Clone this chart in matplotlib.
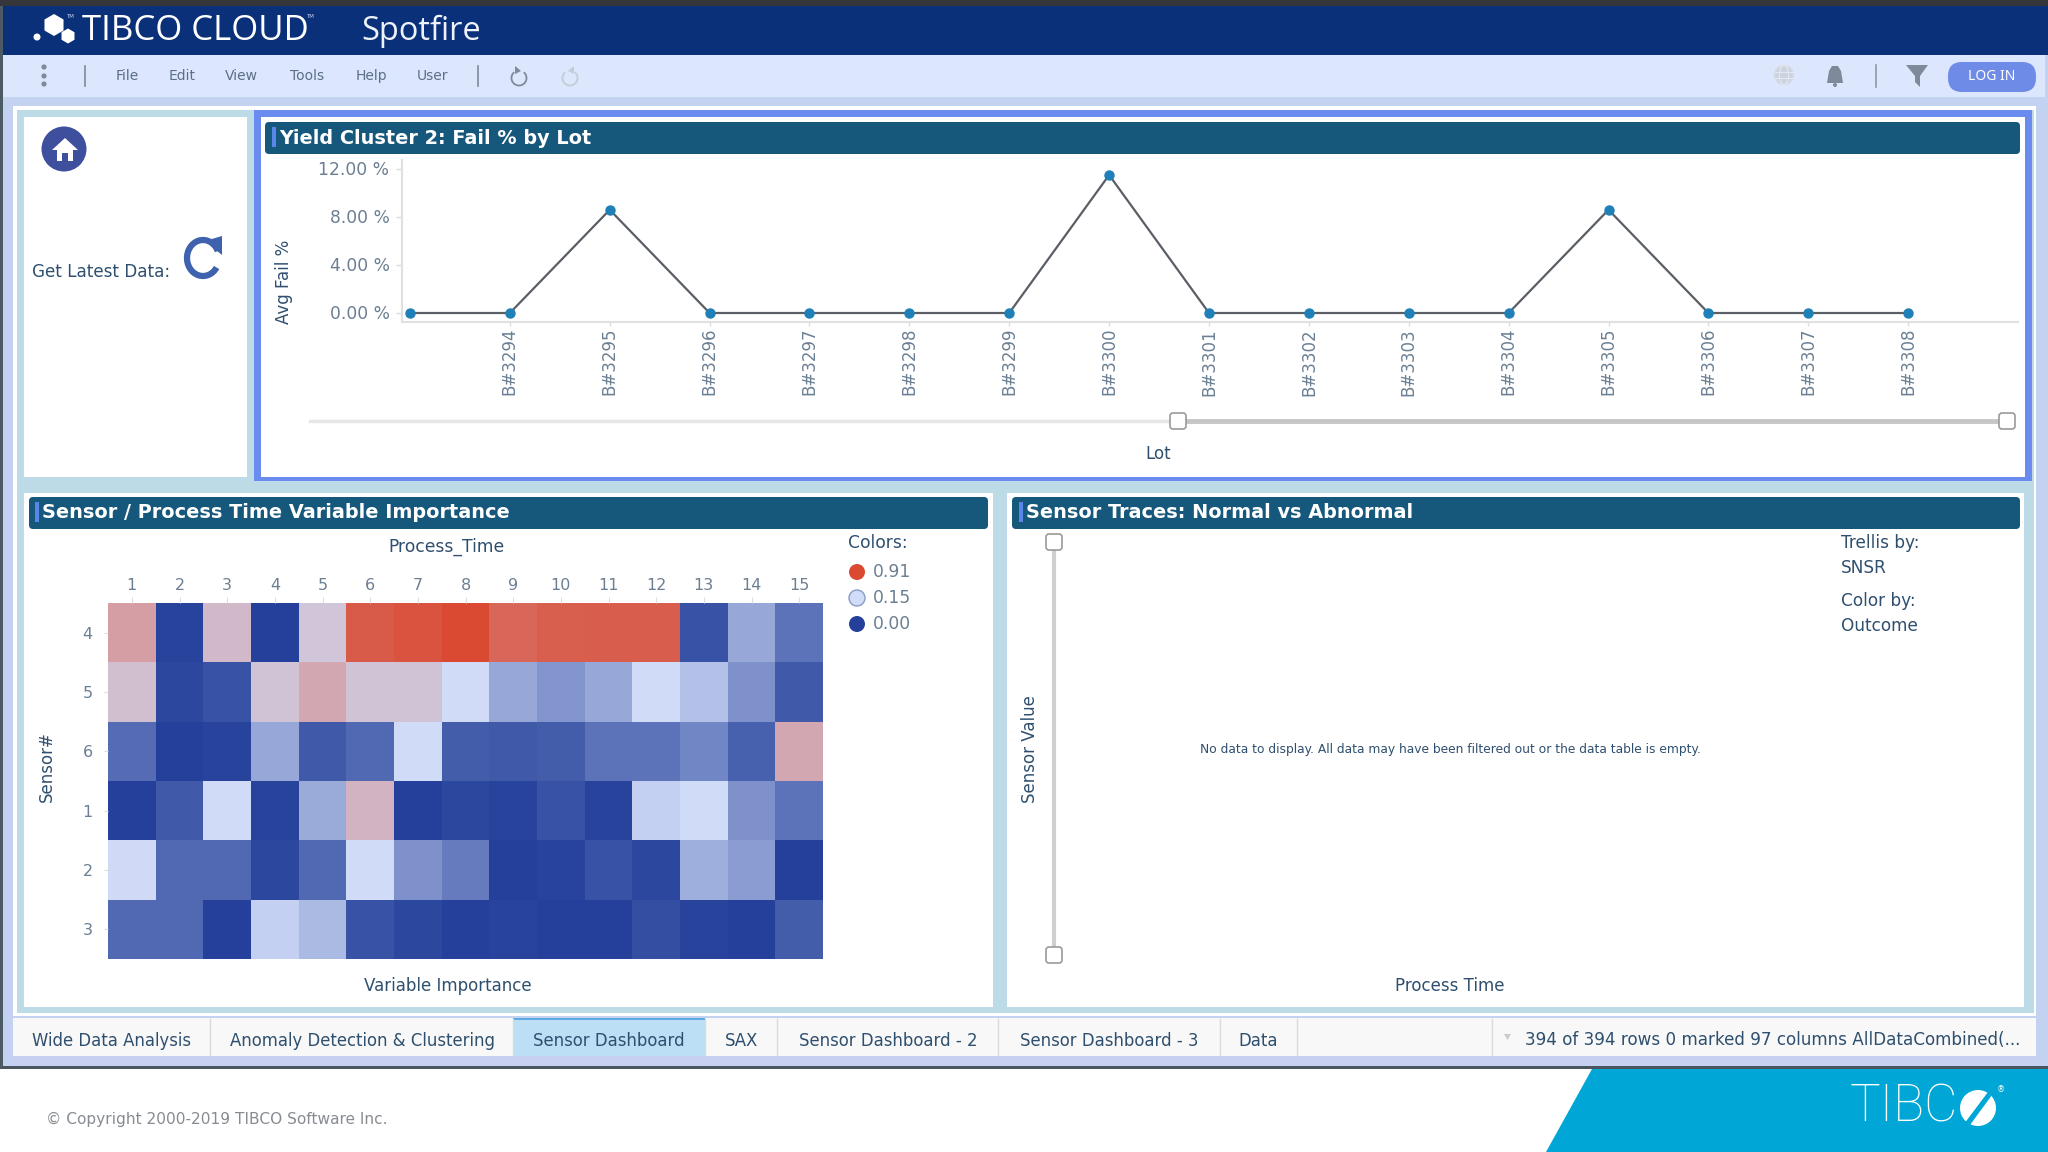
import numpy as np
import matplotlib
matplotlib.use("Agg")
import matplotlib.pyplot as plt
from matplotlib.colors import LinearSegmentedColormap, Normalize
from matplotlib.patches import Rectangle, FancyBboxPatch, Circle, Polygon, Arc, RegularPolygon, Ellipse
from matplotlib.transforms import ScaledTranslation

# fail % by lot
lots = ["", "B#3294", "B#3295", "B#3296", "B#3297", "B#3298", "B#3299", "B#3300",
        "B#3301", "B#3302", "B#3303", "B#3304", "B#3305", "B#3306", "B#3307", "B#3308"]
avg_fail = [0, 0, 8.6, 0, 0, 0, 0, 11.5, 0, 0, 0, 0, 8.6, 0, 0, 0]
fail_ticks = [0, 4, 8, 12]

# heatmap
process_time = list(range(1, 16))
sensors = ["4", "5", "6", "1", "2", "3"]
sensor_4 = [.47, .005, .33, .00, .27, .82, .86, .91, .76, .80, .81, .81, .02, .10, .05]
sensor_5 = [.30, .01, .02, .28, .42, .28, .28, .15, .10, .085, .10, .15, .125, .08, .025]
sensor_6 = [.045, .002, .005, .10, .025, .04, .15, .03, .025, .03, .05, .05, .07, .035, .42]
sensor_1 = [.00, .025, .15, .005, .105, .36, .00, .01, .005, .02, .005, .14, .15, .08, .05]
sensor_2 = [.16, .04, .04, .01, .04, .15, .08, .06, .002, .004, .02, .01, .11, .09, .002]
sensor_3 = [.04, .04, .00, .14, .12, .02, .008, .002, .006, .002, .002, .015, .004, .003, .03]
legend_vals = [0.91, 0.15, 0.00]

tabs = ["Wide Data Analysis", "Anomaly Detection & Clustering", "Sensor Dashboard", "SAX",
        "Sensor Dashboard - 2", "Sensor Dashboard - 3", "Data"]
tab_x = [111, 362, 609, 741, 888, 1109, 1258]
tab_seps = [210, 513, 705, 777, 998, 1220, 1297, 1492]
menu = ["File", "Edit", "View", "Tools", "Help", "User"]
menu_x = [127, 182, 241, 307, 371, 432]

TEXT = "#2f4f6f"
TICK = "#6b7f93"
TEAL = "#16587c"
W, H = 2048, 1152

fig = plt.figure(figsize=(W / 100, H / 100), dpi=100, facecolor="white")
plt.rcParams["font.family"] = ["DejaVu Sans"]


def px_axes(left, top, right, bottom, **kw):
    return fig.add_axes([left / W, 1 - bottom / H, (right - left) / W, (bottom - top) / H], **kw)


# page furniture, drawn in pixel coordinates
bg = fig.add_axes([0, 0, 1, 1], zorder=0)
bg.set_xlim(0, W)
bg.set_ylim(H, 0)
bg.axis("off")


def box(x0, y0, x1, y1, color, z=1):
    bg.add_patch(Rectangle((x0, y0), x1 - x0, y1 - y0, fc=color, ec="none", zorder=z))


def rbox(x0, y0, x1, y1, color, rad=4, z=2, ec="none", lw=0):
    bg.add_patch(FancyBboxPatch((x0 + rad, y0 + rad), x1 - x0 - 2 * rad, y1 - y0 - 2 * rad,
                                boxstyle="round,pad=%d" % rad, fc=color, ec=ec, lw=lw, zorder=z))


def txt(x, y, s, size=11, color=TEXT, ha="left", va="center", **kw):
    bg.text(x, y, s, fontsize=size, color=color, ha=ha, va=va, zorder=6, **kw)


# window + title bars
box(0, 0, W, 1068, "#c3d2f0")
box(0, 1066, W, 1069, "#4a5560")
box(0, 0, 3, 1068, "#4c5a66", z=3)
box(0, 0, W, 6, "#35363a", z=3)
box(0, 6, W, 55, "#0a3079", z=2)
box(3, 55, W - 3, 97, "#dce6fc", z=2)
box(13, 106, 2036, 1016, "white", z=2)
box(17, 110, 2034, 1013, "#bcdbe6", z=2)
box(24, 117, 247, 477, "white", z=3)
box(254, 110, 2032, 481, "#6a8cf0", z=3)
box(261, 117, 2025, 477, "white", z=4)
box(24, 493, 993, 1007, "white", z=3)
box(1007, 493, 2024, 1007, "white", z=3)

# logo
bg.add_patch(Circle((37, 37), 3.5, fc="white", zorder=5))
bg.add_patch(RegularPolygon((54, 25), 6, radius=11, fc="white", zorder=5))
bg.add_patch(RegularPolygon((68, 36), 6, radius=7.5, fc="white", zorder=5))
txt(82, 31, "TIBCO CLOUD", size=25, color="white", family="Open Sans")
txt(66, 17, "TM", size=4, color="#c8d4ee")
txt(306, 16, "TM", size=4, color="#c8d4ee")
txt(361, 31, "Spotfire", size=23.5, color="#eef2fb", family="Open Sans")

# toolbar
for yy in (67, 76, 84):
    bg.add_patch(Circle((44, yy), 2.6, fc="#7d8a9b", zorder=5))
bg.plot([85, 85], [66, 86], color="#7d8a9b", lw=1.2, zorder=5)
bg.plot([478, 478], [66, 86], color="#7d8a9b", lw=1.2, zorder=5)
for name, xx in zip(menu, menu_x):
    txt(xx, 76, name, size=10, color="#5c6f84", ha="center")
bg.add_patch(Arc((519, 78), 15, 15, theta1=-50, theta2=230, ec="#7d8a9b", lw=1.3, zorder=5))
bg.add_patch(Arc((570, 78), 15, 15, theta1=-50, theta2=230, ec="#c4ccd8", lw=1.3, zorder=5))
bg.add_patch(Polygon([[515, 66], [515, 74], [521, 71]], fc="#7d8a9b", zorder=5))
bg.add_patch(Polygon([[574, 66], [574, 74], [568, 71]], fc="#c4ccd8", zorder=5))
bg.add_patch(Circle((1784, 75), 9.5, fc="#cbd3e0", ec="#d6dce6", zorder=5))
bg.add_patch(Ellipse((1784, 75), 9, 19, fc="none", ec="#e4e9f1", lw=0.8, zorder=6))
bg.plot([1775, 1793], [72, 72], color="#e4e9f1", lw=0.8, zorder=6)
bg.plot([1775, 1793], [78, 78], color="#e4e9f1", lw=0.8, zorder=6)
bg.add_patch(Polygon([[1827, 83], [1829, 71], [1832, 66], [1838, 66], [1841, 71], [1843, 83]], fc="#7e8a9a", zorder=5))
bg.add_patch(Circle((1835, 85), 2, fc="#7e8a9a", zorder=5))
bg.plot([1876, 1876], [65, 87], color="#8d98a8", lw=1.2, zorder=5)
bg.add_patch(Polygon([[1906, 65], [1928, 65], [1920, 76], [1920, 87], [1915, 82], [1915, 76]], fc="#7e8a9a", zorder=5))
rbox(1948, 62, 2036, 92, "#6f8be8", rad=14, z=5)
txt(1992, 77, "LOG IN", size=10, color="white", ha="center", family="Noto Sans")

# left control panel
bg.add_patch(Circle((64, 149), 22.5, fc="#3e4f9e", zorder=5))
bg.add_patch(Polygon([[52, 150], [65, 138], [78, 150], [73, 150], [73, 161], [68, 161], [68, 153], [62, 153], [62, 161],
                      [57, 161], [57, 150]], fc="white", zorder=6))
txt(32, 272, "Get Latest Data:", size=12.1)
bg.add_patch(Arc((203, 258), 32, 36, theta1=35, theta2=335, ec="#3f62ae", lw=4.5, zorder=5))
bg.add_patch(Polygon([[205, 241], [222, 236], [222, 255]], fc="#3f62ae", zorder=6))


# panel title bars
def title_bar(x0, y0, x1, y1, title, tx, size):
    rbox(x0, y0, x1, y1, TEAL, rad=4, z=6)
    box(tx - 7, y0 + 5, tx - 3, y1 - 7, "#5a86e8", z=7)
    bg.text(tx, (y0 + y1) / 2, title, fontsize=size, color="white", fontweight="bold", va="center", zorder=8)


title_bar(265, 122, 2020, 154, "Yield Cluster 2: Fail % by Lot", 279, 13.9)
title_bar(29, 497, 988, 529, "Sensor / Process Time Variable Importance", 42, 13.9)
title_bar(1012, 497, 2020, 529, "Sensor Traces: Normal vs Abnormal", 1026, 13.9)

bg.patch.set_alpha(0)

# line chart
ax = px_axes(402, 160, 2018, 322, zorder=6)
ax.patch.set_alpha(0)
xs = np.arange(len(lots))
ax.plot(xs, avg_fail, color="#5a5f66", lw=1.6, marker="o", ms=6.5, mfc="#1f80b8", mec="#1f80b8", zorder=3)
ax.set_xlim(-0.08, 16.1)
ax.set_ylim(-0.75, 12.75)
ax.set_yticks(fail_ticks)
ax.set_yticklabels(["%.2f %%" % t for t in fail_ticks], fontsize=12.3, color=TICK)
ax.set_xticks(xs[1:])
ax.set_xticklabels(lots[1:], rotation=90, fontsize=12, color=TICK)
ax.tick_params(axis="y", length=4, color="#dddddd", width=1, pad=5)
ax.tick_params(axis="x", length=3, color="#dddddd", width=1, pad=1.3)
# labels sit a little above their ticks in the original
for lab in ax.get_yticklabels():
    lab.set_transform(lab.get_transform() + ScaledTranslation(0, 1 / 72, fig.dpi_scale_trans))
for s in ("top", "right"):
    ax.spines[s].set_visible(False)
for s in ("left", "bottom"):
    ax.spines[s].set_color("#e0e0e0")
    ax.spines[s].set_linewidth(1.5)
txt(284, 282, "Avg Fail %", size=12, rotation=90, ha="center")

# range slider under the line chart
bg.plot([310, 1178], [421, 421], color="#e6e6e6", lw=2.5, zorder=5)
bg.plot([1178, 2007], [421, 421], color="#c6c6c6", lw=3.5, zorder=5)
for xx in (1178, 2007):
    rbox(xx - 8, 413, xx + 8, 429, "white", rad=3, z=6, ec="#9a9a9a", lw=1.2)
txt(1158, 454, "Lot", size=12, ha="center")

# heatmap
stops = [(0, "#24409a"), (0.15 / 0.91, "#d0dcf8"), (1, "#da4a32")]
cmap = LinearSegmentedColormap.from_list("importance", stops)
norm = Normalize(0, 0.91)
values = np.array([sensor_4, sensor_5, sensor_6, sensor_1, sensor_2, sensor_3])
hm = px_axes(108, 603, 823, 959, zorder=6)
hm.imshow(values, cmap=cmap, norm=norm, aspect="auto", interpolation="nearest")
hm.xaxis.tick_top()
hm.set_xticks(np.arange(len(process_time)))
hm.set_xticklabels(process_time, fontsize=11.5, color=TICK)
hm.set_yticks(np.arange(len(sensors)))
hm.set_yticklabels(sensors, fontsize=11.5, color=TICK)
hm.tick_params(axis="x", length=4, color="#dddddd", pad=3.5)
hm.tick_params(axis="y", length=3, color="#dddddd", pad=8)
for s in hm.spines.values():
    s.set_visible(False)

txt(446, 547, "Process_Time", size=12.3, ha="center")
txt(47, 767, "Sensor#", size=12, rotation=90, ha="center")
txt(448, 986, "Variable Importance", size=12, ha="center")
txt(848, 543, "Colors:", size=12.3)
for val, yy in zip(legend_vals, (572, 598, 624)):
    bg.add_patch(Circle((857, yy), 8, fc=cmap(norm(val)), ec="#8a9ac8" if val == 0.15 else "none", lw=1, zorder=6))
    txt(873, yy, "%.2f" % val, size=12.3, color=TICK)

# sensor traces panel (empty)
bg.plot([1054, 1054], [542, 955], color="#cfcfcf", lw=3, zorder=5)
for yy in (542, 955):
    rbox(1046, yy - 8, 1062, yy + 8, "white", rad=3, z=6, ec="#9a9a9a", lw=1.2)
txt(1030, 749, "Sensor Value", size=12, rotation=90, ha="center")
for yy, s in zip((543, 568, 601, 626), ("Trellis by:", "SNSR", "Color by:", "Outcome")):
    txt(1841, yy, s, size=12.2)
txt(1450, 750, "No data to display. All data may have been filtered out or the data table is empty.",
    size=8.8, ha="center")
txt(1450, 986, "Process Time", size=12, ha="center")

# tab strip
box(13, 1018, 2036, 1056, "#f7f8f7", z=3)
box(13, 1056, 2036, 1066, "#c8d0f2", z=3)
box(513, 1019, 705, 1056, "#bcdff5", z=4)
box(513, 1018, 705, 1020, "#5aa9e0", z=5)
for xx in tab_seps:
    bg.plot([xx, xx], [1019, 1056], color="#d8dbd8", lw=1, zorder=5)
for name, xx in zip(tabs, tab_x):
    txt(xx, 1041, name, size=11.9, ha="center")
bg.add_patch(Polygon([[1504, 1034], [1511, 1034], [1507.5, 1040]], fc="#cccccc", zorder=5))
txt(1525, 1040, "394 of 394 rows 0 marked 97 columns AllDataCombined(...", size=12.1)

# footer
txt(46, 1119, "© Copyright 2000-2019 TIBCO Software Inc.", size=11.1, color="#878c92")
bg.add_patch(Polygon([[1592, 1069], [W, 1069], [W, H], [1546, H]], fc="#00a7d6", zorder=2))
txt(1850, 1108, "TIBC", size=37, color="white", family="Roboto", fontweight="light")
bg.add_patch(Circle((1978, 1108), 18, fc="white", zorder=5))
bg.add_patch(Polygon([[1964, 1124], [1988, 1092], [1992, 1095], [1970, 1125]], fc="#00a7d6", zorder=6))
txt(1997, 1090, "®", size=6, color="white")

fig.savefig("out.png", dpi=100, facecolor="white")
